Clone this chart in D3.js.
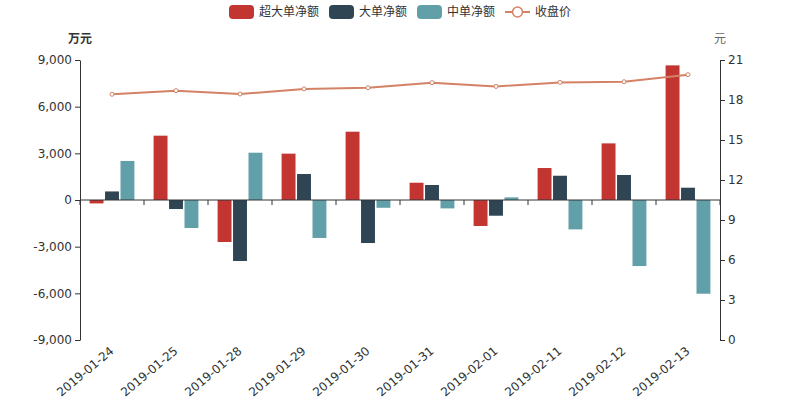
<!DOCTYPE html>
<html>
<head>
<meta charset="utf-8">
<script src="https://cdn.jsdelivr.net/npm/d3@7"></script>
<style>
  body { margin: 0; background: #fff; }
  svg, svg text { font-family: "DejaVu Sans", "Noto Sans CJK SC", sans-serif; }
</style>
</head>
<body>
<div id="chart"></div>
<script>
const dates = ["2019-01-24", "2019-01-25", "2019-01-28", "2019-01-29", "2019-01-30",
               "2019-01-31", "2019-02-01", "2019-02-11", "2019-02-12", "2019-02-13"];
const superLarge = [-220, 4135, -2700, 2980, 4390, 1110, -1670, 2055, 3640, 8655];
const large = [550, -580, -3920, 1670, -2765, 965, -1010, 1560, 1607, 790];
const medium = [2510, -1800, 3040, -2440, -500, -540, 170, -1890, -4245, -6025];
const closePrice = [18.43, 18.70, 18.45, 18.83, 18.92, 19.30, 19.02, 19.32, 19.37, 19.90];
const leftTicks = [-9000, -6000, -3000, 0, 3000, 6000, 9000];
const rightTicks = [0, 3, 6, 9, 12, 15, 18, 21];

const seriesNames = ["超大单净额", "大单净额", "中单净额"];
const seriesData = [superLarge, large, medium];
const colors = ["#c23531", "#2f4554", "#61a0a8"];
const lineColor = "#d48265";

const width = 800, height = 400;
const margin = { top: 60, right: 80, bottom: 60, left: 80 };

const svg = d3.select("#chart").append("svg")
    .attr("width", width)
    .attr("height", height);

const x0 = d3.scaleBand()
    .domain(dates)
    .range([margin.left, width - margin.right])
    .paddingInner(0.3)
    .paddingOuter(0.15);

const x1 = d3.scaleBand()
    .domain(seriesNames)
    .range([0, x0.bandwidth()])
    .paddingInner(0.1);

const y = d3.scaleLinear()
    .domain([-9000, 9000])
    .range([height - margin.bottom, margin.top]);

const y2 = d3.scaleLinear()
    .domain([0, 21])
    .range([height - margin.bottom, margin.top]);

// boundary positions for x ticks
const step = x0.step();
const bounds = d3.range(dates.length + 1).map(i => margin.left + i * step);

// --- bars ---
const rows = dates.map((d, i) => ({
    date: d,
    vals: seriesNames.map((s, j) => ({ key: s, value: seriesData[j][i], color: colors[j] }))
}));

svg.append("g")
    .selectAll("g")
    .data(rows)
    .join("g")
    .attr("transform", d => `translate(${x0(d.date)},0)`)
    .selectAll("rect")
    .data(d => d.vals)
    .join("rect")
    .attr("x", d => x1(d.key))
    .attr("width", x1.bandwidth())
    .attr("y", d => y(Math.max(0, d.value)))
    .attr("height", d => Math.abs(y(d.value) - y(0)))
    .attr("fill", d => d.color);

// --- left axis ---
const fmt = d => d3.format(",")(d).replace("−", "-");
const leftAxis = svg.append("g")
    .attr("transform", `translate(${margin.left},0)`)
    .call(d3.axisLeft(y).tickValues(leftTicks).tickSize(5).tickSizeOuter(0).tickFormat(fmt));
leftAxis.attr("font-family", null);
leftAxis.selectAll("path, line").attr("stroke", "#333");
leftAxis.selectAll("text").attr("fill", "#333").attr("font-size", 12).attr("x", -8);

// --- right axis ---
const rightAxis = svg.append("g")
    .attr("transform", `translate(${width - margin.right},0)`)
    .call(d3.axisRight(y2).tickValues(rightTicks).tickSize(5).tickSizeOuter(0));
rightAxis.attr("font-family", null);
rightAxis.selectAll("path, line").attr("stroke", "#333");
rightAxis.selectAll("text").attr("fill", "#333").attr("font-size", 12).attr("x", 8);

// --- x axis on zero ---
const xAxis = svg.append("g");
xAxis.append("line")
    .attr("x1", margin.left).attr("x2", width - margin.right)
    .attr("y1", y(0)).attr("y2", y(0))
    .attr("stroke", "#333");
xAxis.selectAll("line.tick")
    .data(bounds)
    .join("line")
    .attr("class", "tick")
    .attr("x1", d => d).attr("x2", d => d)
    .attr("y1", y(0)).attr("y2", y(0) + 5)
    .attr("stroke", "#333");

// x labels at bottom, rotated
svg.append("g")
    .selectAll("text")
    .data(dates)
    .join("text")
    .attr("transform", d => `translate(${x0(d) + x0.bandwidth() / 2},${height - margin.bottom + 9}) rotate(-40)`)
    .attr("text-anchor", "end")
    .attr("dy", "0.35em")
    .attr("font-size", 12)
    .attr("fill", "#333")
    .text(d => d);

// axis names
svg.append("text")
    .attr("x", margin.left)
    .attr("y", 43)
    .attr("text-anchor", "middle")
    .attr("font-size", 12)
    .attr("font-weight", "bold")
    .attr("fill", "#333")
    .text("万元");
svg.append("text")
    .attr("x", width - margin.right)
    .attr("y", 43)
    .attr("text-anchor", "middle")
    .attr("font-size", 12)
    .attr("fill", "#666")
    .text("元");

// --- close price line ---
const cx = d => x0(d) + x0.bandwidth() / 2;
const line = d3.line()
    .x((d, i) => cx(dates[i]))
    .y(d => y2(d));

svg.append("path")
    .datum(closePrice)
    .attr("d", line)
    .attr("fill", "none")
    .attr("stroke", lineColor)
    .attr("stroke-width", 2);

svg.append("g")
    .selectAll("circle")
    .data(closePrice)
    .join("circle")
    .attr("cx", (d, i) => cx(dates[i]))
    .attr("cy", d => y2(d))
    .attr("r", 2)
    .attr("fill", "#fff")
    .attr("stroke", lineColor)
    .attr("stroke-width", 1);

// --- legend ---
const legendItems = [
    { name: "超大单净额", color: colors[0], type: "bar", x: 229 },
    { name: "大单净额", color: colors[1], type: "bar", x: 329 },
    { name: "中单净额", color: colors[2], type: "bar", x: 417 },
    { name: "收盘价", color: lineColor, type: "line", x: 505 }
];

const legend = svg.append("g").attr("transform", "translate(0,12)");
const li = legend.selectAll("g")
    .data(legendItems)
    .join("g")
    .attr("transform", d => `translate(${d.x},0)`);

li.filter(d => d.type === "bar").append("rect")
    .attr("x", 0).attr("y", -7)
    .attr("width", 25).attr("height", 14)
    .attr("rx", 4)
    .attr("fill", d => d.color);

li.filter(d => d.type === "line").each(function(d) {
    const g = d3.select(this);
    g.append("line")
        .attr("x1", 0).attr("x2", 25)
        .attr("y1", 0).attr("y2", 0)
        .attr("stroke", d.color).attr("stroke-width", 2);
    g.append("circle")
        .attr("cx", 12.5).attr("cy", 0).attr("r", 5)
        .attr("fill", "#fff")
        .attr("stroke", d.color).attr("stroke-width", 1.5);
});

li.append("text")
    .attr("x", 30)
    .attr("dy", "0.35em")
    .attr("font-size", 12)
    .attr("fill", "#333")
    .text(d => d.name);
</script>
</body>
</html>
